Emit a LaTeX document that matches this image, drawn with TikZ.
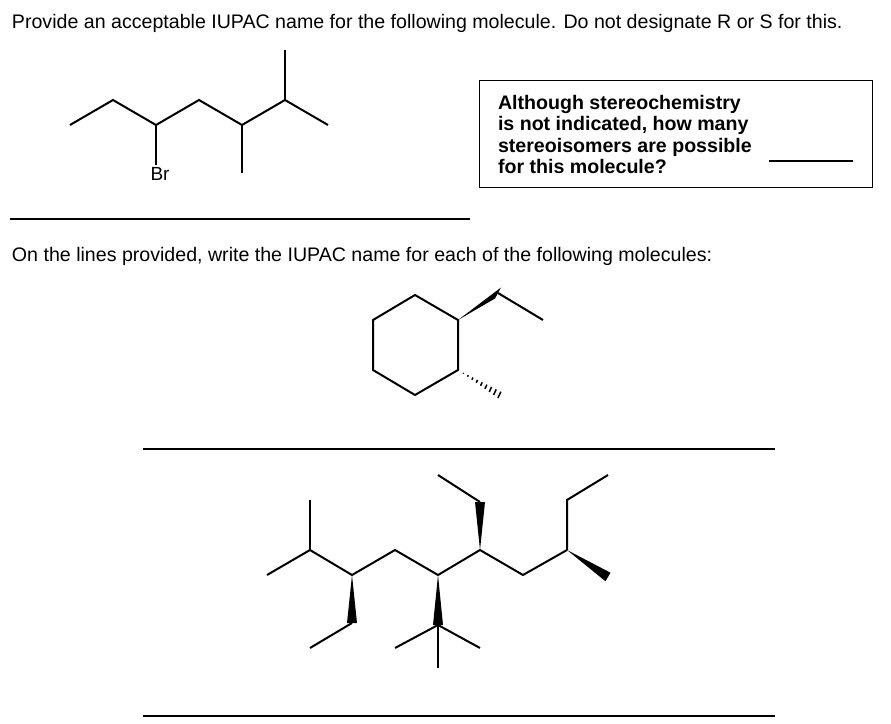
\documentclass[tikz,border=0pt]{standalone}
\usepackage{fontspec}
\setmainfont{Liberation Sans}
\usetikzlibrary{calc}
\begin{document}
\begin{tikzpicture}[x=1pt,y=-1pt,line width=2pt,
  txt/.style={anchor=base west,inner sep=0pt,font=\fontsize{19.6}{22}\selectfont},
  btxt/.style={anchor=base west,inner sep=0pt,font=\fontsize{19.6}{22}\selectfont\bfseries},
  wedge/.style={fill=black,draw=none}]
\useasboundingbox (0,0) rectangle (891,723);
\node[txt] (t1) at (11,28) {Provide an acceptable IUPAC name for the following molecule. Do not designate R or S for this.};
\node[txt] (t2) at (11,261) {On the lines provided, write the IUPAC name for each of the following molecules:};
% molecule 1
\coordinate (a1) at (70,125); \coordinate (a2) at (113,100); \coordinate (a3) at (156,125);
\coordinate (a4) at (199,100); \coordinate (a5) at (242,125); \coordinate (a6) at (285,100);
\coordinate (a7) at (328,125); \coordinate (a8) at (285,50); \coordinate (a9) at (242,173);
\node[inner sep=1pt,font=\fontsize{19}{22}\selectfont] (br) at (160,174) {Br};
\draw (a1)--(a2)--(a3)--(a4)--(a5)--(a6)--(a7); \draw (a6)--(a8); \draw (a5)--(a9);
\draw (a3)--(br.north -| a3);
\node[draw,line width=1.3pt,minimum width=393,minimum height=107,anchor=north west,inner sep=0pt] (box) at (479,80) {};
\node[btxt] at (497,109) {Although stereochemistry};
\node[btxt] at (497,130) {is not indicated, how many};
\node[btxt] at (497,152) {stereoisomers are possible};
\node[btxt] at (497,173) {for this molecule?};
\draw[line width=1.3pt] (769,161)--(853,161);
\draw[line width=2.5pt] (10,219)--(470,219);
% cyclohexane
\coordinate (r1) at (415,295); \coordinate (r2) at (458,320); \coordinate (r3) at (458,370);
\coordinate (r4) at (415,395); \coordinate (r5) at (373,370); \coordinate (r6) at (373,320);
\draw (r1)--(r2)--(r3)--(r4)--(r5)--(r6)--cycle;
\coordinate (e1) at (498,293); \coordinate (e2) at (543,320);
\fill[wedge] (r2)--($(e1)+(3,-5.5)$)--($(e1)+(-3,5.5)$)--cycle;
\draw (e1)--(e2);
\foreach \t in {0.12,0.22,...,1.0}{
  \draw[line width=1.5pt] ($(r3)!\t!(503,397)+(1.6*\t,-3.4*\t)$)--($(r3)!\t!(503,397)-(1.6*\t,-3.4*\t)$);}
\draw[line width=2.5pt] (143,449)--(775,449);
% molecule 3
\coordinate (m1) at (267,575); \coordinate (m2) at (310,550); \coordinate (m3) at (310,500);
\coordinate (m4) at (352,575); \coordinate (m5) at (352,623); \coordinate (m6) at (310,648);
\coordinate (m7) at (395,550); \coordinate (m8) at (438,575); \coordinate (m9) at (438,625);
\coordinate (m10) at (395,648); \coordinate (m11) at (480,648); \coordinate (m12) at (438,668);
\coordinate (m13) at (480,550); \coordinate (m14) at (480,502); \coordinate (m15) at (438,475);
\coordinate (m16) at (523,575); \coordinate (m17) at (567,550); \coordinate (m18) at (567,500);
\coordinate (m19) at (608,475); \coordinate (m20) at (608,577);
\draw (m1)--(m2)--(m4)--(m7)--(m8)--(m13)--(m16)--(m17);
\draw (m2)--(m3); \draw (m5)--(m6); \draw (m10)--(m9)--(m11); \draw (m9)--(m12);
\draw (m14)--(m15); \draw (m17)--(m18)--(m19);
\fill[wedge] (m4)--($(m5)+(-5,0)$)--($(m5)+(5,0)$)--cycle;
\fill[wedge] (m8)--($(m9)+(-5,0)$)--($(m9)+(5,0)$)--cycle;
\fill[wedge] (m13)--($(m14)+(-5,0)$)--($(m14)+(5,0)$)--cycle;
\fill[wedge] (m17)--($(m20)+(2.5,-4.3)$)--($(m20)+(-2.5,4.3)$)--cycle;
\draw[line width=2.5pt] (143,716)--(775,716);
\end{tikzpicture}
\end{document}
